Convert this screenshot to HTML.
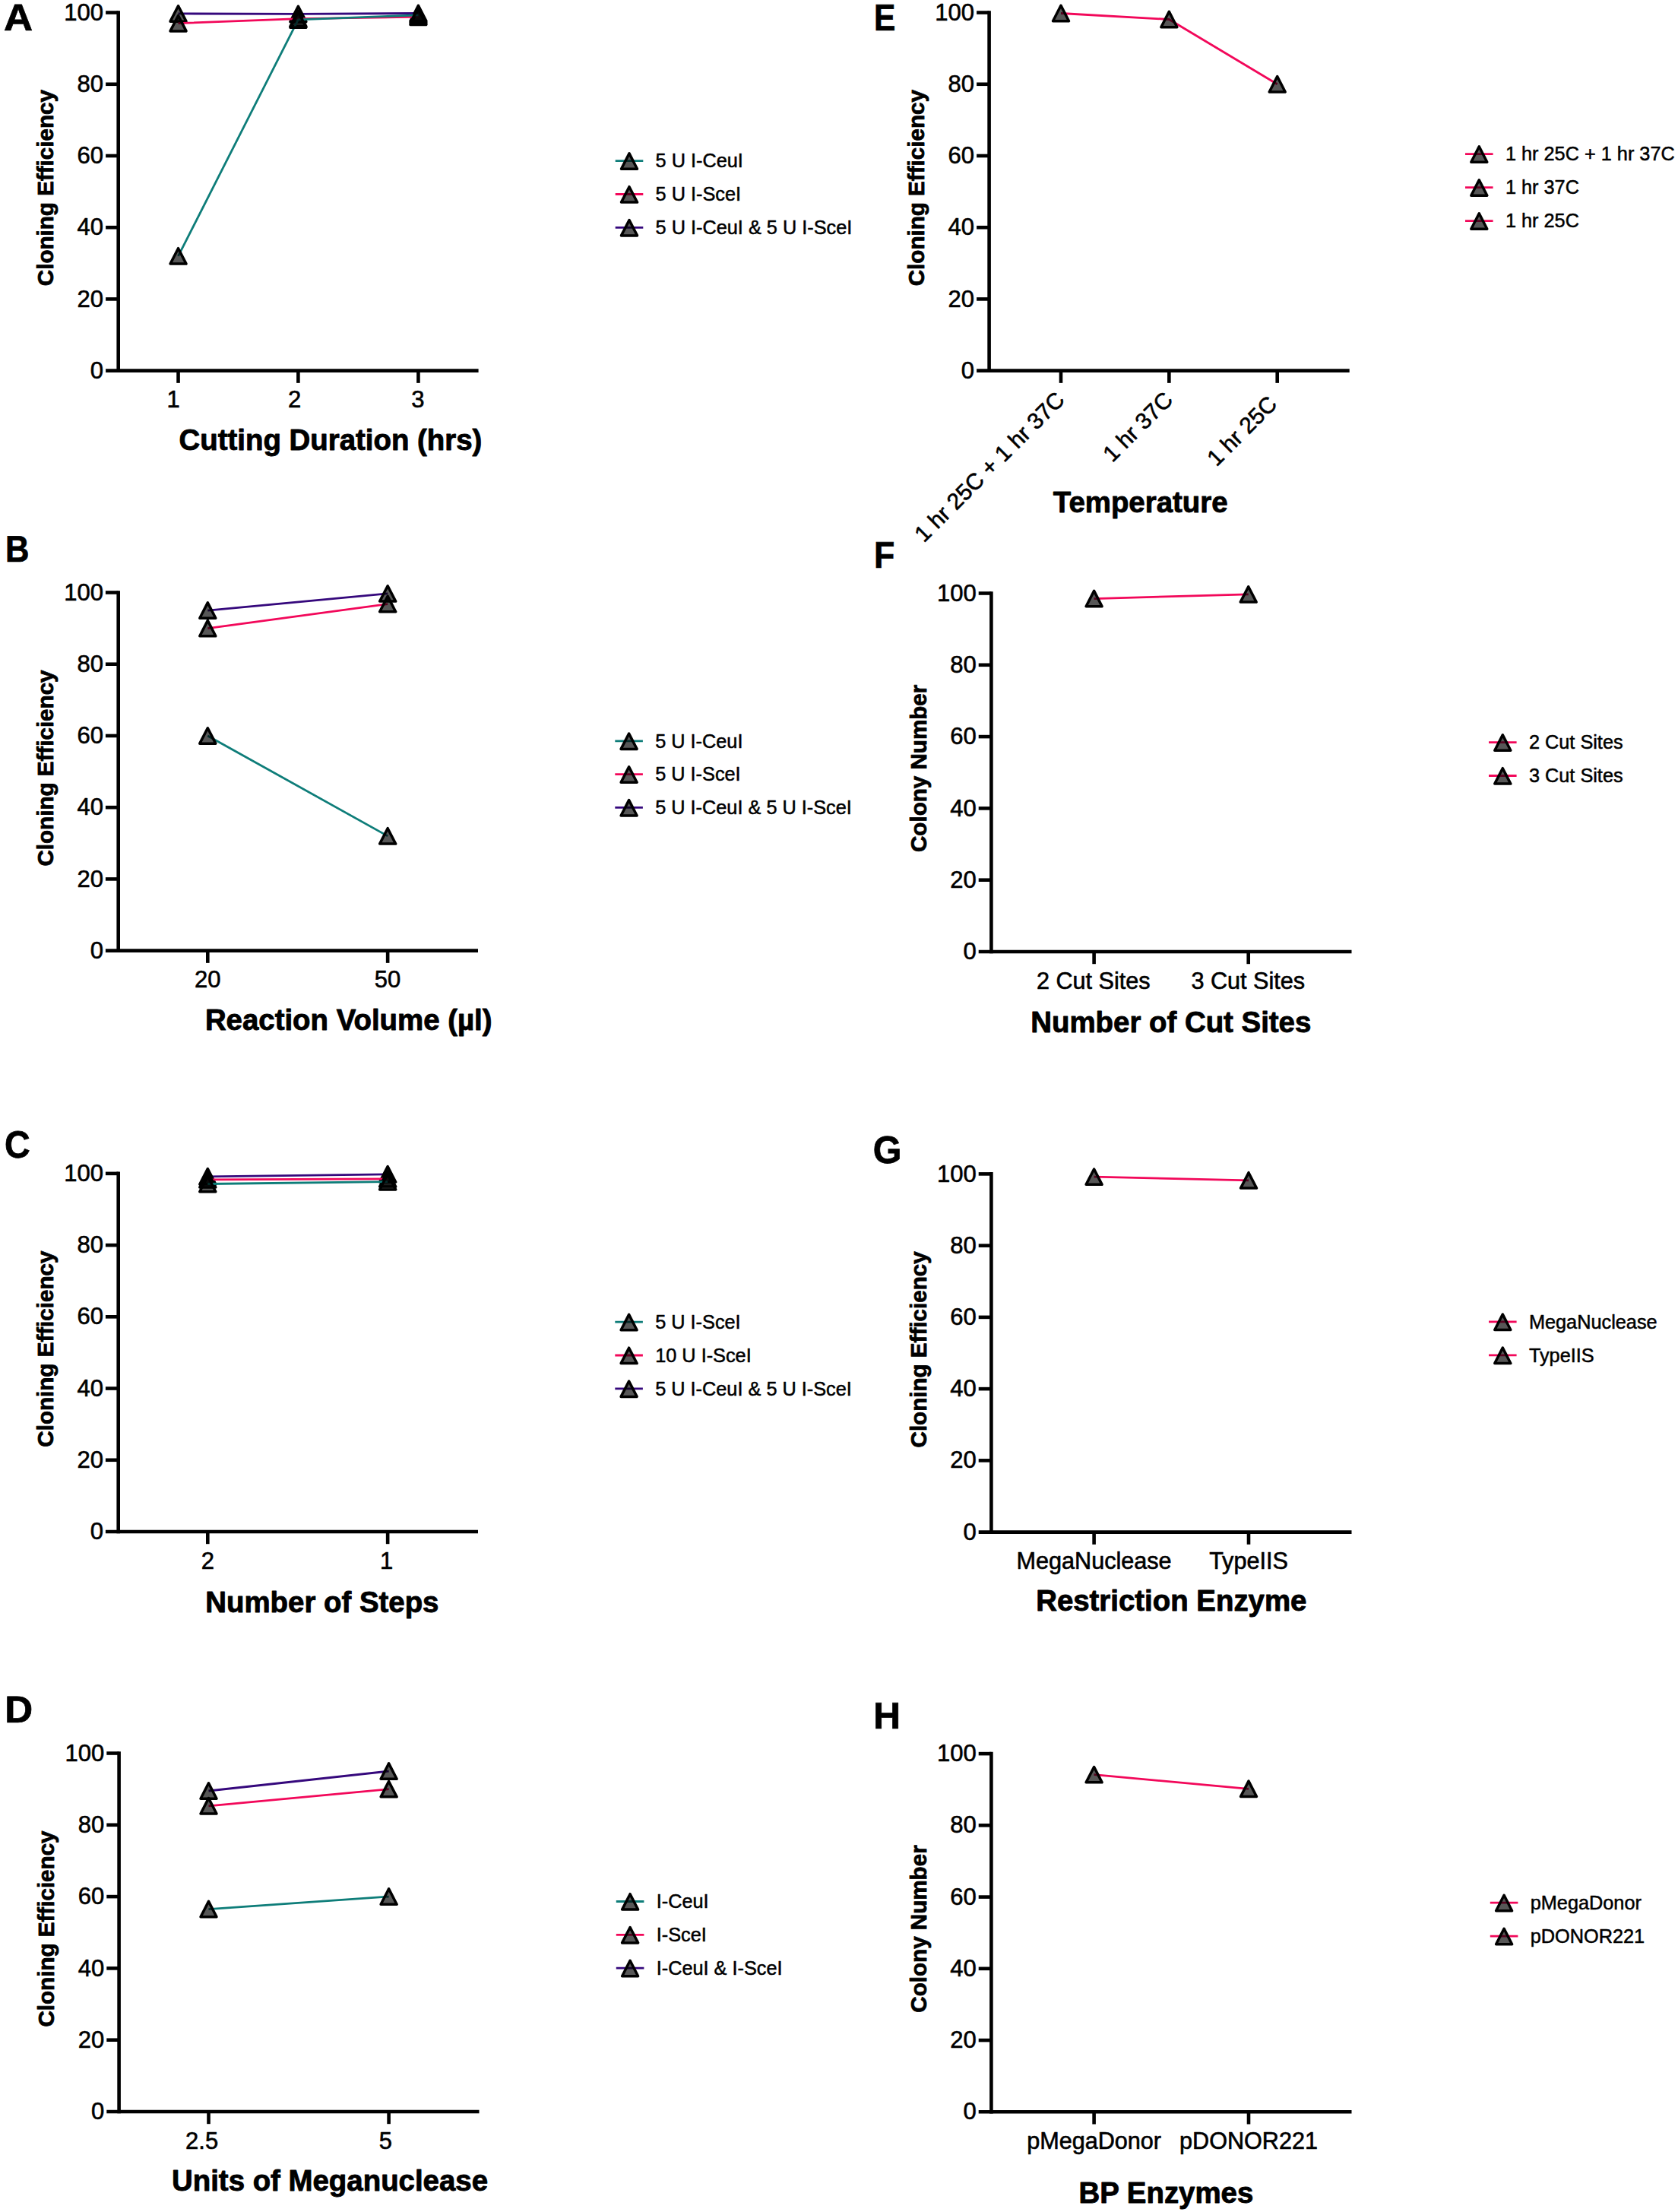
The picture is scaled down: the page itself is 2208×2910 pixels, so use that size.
<!DOCTYPE html>
<html lang="en">
<head>
<meta charset="utf-8">
<title>Cloning efficiency figure</title>
<style>
html,body{margin:0;padding:0;background:#fff}
svg{display:block}
text{font-family:"Liberation Sans",Arial,Helvetica,sans-serif;fill:#000}
.ax{stroke:#000;stroke-width:4.6;fill:none;stroke-linecap:butt}
.ln{stroke-width:2.8;fill:none;stroke-linecap:butt;stroke-linejoin:round}
.tr{fill:#000;fill-opacity:.66;stroke:#000;stroke-width:3.5;stroke-linejoin:round}
.tk{font-size:31px;stroke:#000;stroke-width:.6px;stroke-linejoin:round}
.lg{font-size:25.3px;stroke:#000;stroke-width:.5px;stroke-linejoin:round}
.xt{font-size:38.4px;font-weight:bold;stroke:#000;stroke-width:.9px;stroke-linejoin:round}
.yt{font-size:29.6px;font-weight:bold;stroke:#000;stroke-width:.8px;stroke-linejoin:round}
.pl{text-rendering:geometricPrecision;font-size:100px;font-weight:bold;stroke:#000;stroke-width:1.5px;stroke-linejoin:miter}
</style>
</head>
<body>
<svg width="2208" height="2910" viewBox="0 0 2208 2910">
<rect width="2208" height="2910" fill="#fff"/>
<g class="panel">
<path class="ax" d="M155.7 14.25V489.95"/>
<path class="ax" d="M139.1 487.65H629.6"/>
<text class="tk" text-anchor="end" x="136.1" y="497.75">0</text>
<path class="ax" d="M139.1 393.43H155.7"/>
<text class="tk" text-anchor="end" x="136.1" y="403.53">20</text>
<path class="ax" d="M139.1 299.21H155.7"/>
<text class="tk" text-anchor="end" x="136.1" y="309.31">40</text>
<path class="ax" d="M139.1 204.99H155.7"/>
<text class="tk" text-anchor="end" x="136.1" y="215.09">60</text>
<path class="ax" d="M139.1 110.77H155.7"/>
<text class="tk" text-anchor="end" x="136.1" y="120.87">80</text>
<path class="ax" d="M139.1 16.55H155.7"/>
<text class="tk" text-anchor="end" x="136.1" y="26.65">100</text>
<path class="ax" d="M234.55 487.65V503.85"/>
<text class="tk" text-anchor="middle" x="228.2" y="536.1">1</text>
<path class="ax" d="M392.4 487.65V503.85"/>
<text class="tk" text-anchor="middle" x="387.5" y="536.1">2</text>
<path class="ax" d="M550.45 487.65V503.85"/>
<text class="tk" text-anchor="middle" x="549.9" y="536.1">3</text>
<text class="yt" text-anchor="middle" transform="translate(70.3 247.1) rotate(-90)">Cloning Efficiency</text>
<text class="xt" text-anchor="middle" x="435.0" y="591.5">Cutting Duration (hrs)</text>
<polyline class="ln" stroke="#35087c" points="234.55,17.96 392.40,18.43 550.45,17.49"/>
<path d="M234.55 7.76L245.05 28.16L224.05 28.16Z" class="tr"/>
<path d="M392.40 8.23L402.90 28.63L381.90 28.63Z" class="tr"/>
<path d="M550.45 7.29L560.95 27.69L539.95 27.69Z" class="tr"/>
<polyline class="ln" stroke="#f2085a" points="234.55,30.68 392.40,24.56 550.45,22.20"/>
<path d="M234.55 20.48L245.05 40.88L224.05 40.88Z" class="tr"/>
<path d="M392.40 14.36L402.90 34.76L381.90 34.76Z" class="tr"/>
<path d="M550.45 12.00L560.95 32.40L539.95 32.40Z" class="tr"/>
<polyline class="ln" stroke="#0e7d79" points="234.55,336.90 392.40,25.97 550.45,19.85"/>
<path d="M234.55 326.70L245.05 347.10L224.05 347.10Z" class="tr"/>
<path d="M392.40 15.77L402.90 36.17L381.90 36.17Z" class="tr"/>
<path d="M550.45 9.65L560.95 30.05L539.95 30.05Z" class="tr"/>
<path class="ln" stroke="#0e7d79" d="M809.7 211.7H846.3"/>
<path d="M828.00 201.90L838.50 222.30L817.50 222.30Z" class="tr"/>
<text class="lg" x="862.6" y="220.4">5 U I-CeuI</text>
<path class="ln" stroke="#f2085a" d="M809.7 255.5H846.3"/>
<path d="M828.00 245.70L838.50 266.10L817.50 266.10Z" class="tr"/>
<text class="lg" x="862.6" y="264.2">5 U I-SceI</text>
<path class="ln" stroke="#35087c" d="M809.7 299.3H846.3"/>
<path d="M828.00 289.50L838.50 309.90L817.50 309.90Z" class="tr"/>
<text class="lg" x="862.6" y="308.0">5 U I-CeuI &amp; 5 U I-SceI</text>
<text class="pl" transform="matrix(0.5278 0 0 0.4953 5.08 40.08)">A</text>
</g>
<g class="panel">
<path class="ax" d="M155.7 777.20V1252.95"/>
<path class="ax" d="M138.9 1250.65H629.0"/>
<text class="tk" text-anchor="end" x="135.9" y="1260.75">0</text>
<path class="ax" d="M138.9 1156.42H155.7"/>
<text class="tk" text-anchor="end" x="135.9" y="1166.52">20</text>
<path class="ax" d="M138.9 1062.19H155.7"/>
<text class="tk" text-anchor="end" x="135.9" y="1072.29">40</text>
<path class="ax" d="M138.9 967.96H155.7"/>
<text class="tk" text-anchor="end" x="135.9" y="978.06">60</text>
<path class="ax" d="M138.9 873.73H155.7"/>
<text class="tk" text-anchor="end" x="135.9" y="883.83">80</text>
<path class="ax" d="M138.9 779.50H155.7"/>
<text class="tk" text-anchor="end" x="135.9" y="789.60">100</text>
<path class="ax" d="M273.3 1250.65V1266.85"/>
<text class="tk" text-anchor="middle" x="273.3" y="1299.2">20</text>
<path class="ax" d="M510.15 1250.65V1266.85"/>
<text class="tk" text-anchor="middle" x="510.1" y="1299.2">50</text>
<text class="yt" text-anchor="middle" transform="translate(70.3 1010.5) rotate(-90)">Cloning Efficiency</text>
<text class="xt" text-anchor="middle" x="458.7" y="1355.3">Reaction Volume (µl)</text>
<polyline class="ln" stroke="#35087c" points="273.30,803.06 510.15,780.91"/>
<path d="M273.30 792.86L283.80 813.26L262.80 813.26Z" class="tr"/>
<path d="M510.15 770.71L520.65 791.11L499.65 791.11Z" class="tr"/>
<polyline class="ln" stroke="#f2085a" points="273.30,826.62 510.15,794.58"/>
<path d="M273.30 816.41L283.80 836.82L262.80 836.82Z" class="tr"/>
<path d="M510.15 784.38L520.65 804.78L499.65 804.78Z" class="tr"/>
<polyline class="ln" stroke="#0e7d79" points="273.30,967.96 510.15,1099.88"/>
<path d="M273.30 957.76L283.80 978.16L262.80 978.16Z" class="tr"/>
<path d="M510.15 1089.68L520.65 1110.08L499.65 1110.08Z" class="tr"/>
<path class="ln" stroke="#0e7d79" d="M809.3 974.8H845.9"/>
<path d="M827.60 965.00L838.10 985.40L817.10 985.40Z" class="tr"/>
<text class="lg" x="862.2" y="983.5">5 U I-CeuI</text>
<path class="ln" stroke="#f2085a" d="M809.3 1018.6H845.9"/>
<path d="M827.60 1008.80L838.10 1029.20L817.10 1029.20Z" class="tr"/>
<text class="lg" x="862.2" y="1027.3">5 U I-SceI</text>
<path class="ln" stroke="#35087c" d="M809.3 1062.4H845.9"/>
<path d="M827.60 1052.60L838.10 1073.00L817.10 1073.00Z" class="tr"/>
<text class="lg" x="862.2" y="1071.1">5 U I-CeuI &amp; 5 U I-SceI</text>
<text class="pl" transform="matrix(0.4357 0 0 0.4893 6.88 738.88)">B</text>
</g>
<g class="panel">
<path class="ax" d="M155.7 1541.55V2017.30"/>
<path class="ax" d="M138.9 2015.0H629.0"/>
<text class="tk" text-anchor="end" x="135.9" y="2025.10">0</text>
<path class="ax" d="M138.9 1920.77H155.7"/>
<text class="tk" text-anchor="end" x="135.9" y="1930.87">20</text>
<path class="ax" d="M138.9 1826.54H155.7"/>
<text class="tk" text-anchor="end" x="135.9" y="1836.64">40</text>
<path class="ax" d="M138.9 1732.31H155.7"/>
<text class="tk" text-anchor="end" x="135.9" y="1742.41">60</text>
<path class="ax" d="M138.9 1638.08H155.7"/>
<text class="tk" text-anchor="end" x="135.9" y="1648.18">80</text>
<path class="ax" d="M138.9 1543.85H155.7"/>
<text class="tk" text-anchor="end" x="135.9" y="1553.95">100</text>
<path class="ax" d="M273.3 2015.0V2031.20"/>
<text class="tk" text-anchor="middle" x="273.3" y="2063.5">2</text>
<path class="ax" d="M510.15 2015.0V2031.20"/>
<text class="tk" text-anchor="middle" x="508.5" y="2063.5">1</text>
<text class="yt" text-anchor="middle" transform="translate(70.3 1774.6) rotate(-90)">Cloning Efficiency</text>
<text class="xt" text-anchor="middle" x="423.9" y="2121.0">Number of Steps</text>
<polyline class="ln" stroke="#35087c" points="273.30,1547.85 510.15,1544.79"/>
<path d="M273.30 1537.65L283.80 1558.05L262.80 1558.05Z" class="tr"/>
<path d="M510.15 1534.59L520.65 1554.99L499.65 1554.99Z" class="tr"/>
<polyline class="ln" stroke="#f2085a" points="273.30,1551.86 510.15,1550.92"/>
<path d="M273.30 1541.66L283.80 1562.06L262.80 1562.06Z" class="tr"/>
<path d="M510.15 1540.72L520.65 1561.12L499.65 1561.12Z" class="tr"/>
<polyline class="ln" stroke="#0e7d79" points="273.30,1557.51 510.15,1554.69"/>
<path d="M273.30 1547.31L283.80 1567.71L262.80 1567.71Z" class="tr"/>
<path d="M510.15 1544.49L520.65 1564.89L499.65 1564.89Z" class="tr"/>
<path class="ln" stroke="#0e7d79" d="M809.3 1739.2H845.9"/>
<path d="M827.60 1729.40L838.10 1749.80L817.10 1749.80Z" class="tr"/>
<text class="lg" x="862.2" y="1747.9">5 U I-SceI</text>
<path class="ln" stroke="#f2085a" d="M809.3 1783.0H845.9"/>
<path d="M827.60 1773.20L838.10 1793.60L817.10 1793.60Z" class="tr"/>
<text class="lg" x="862.2" y="1791.7">10 U I-SceI</text>
<path class="ln" stroke="#35087c" d="M809.3 1826.8H845.9"/>
<path d="M827.60 1817.00L838.10 1837.40L817.10 1837.40Z" class="tr"/>
<text class="lg" x="862.2" y="1835.5">5 U I-CeuI &amp; 5 U I-SceI</text>
<text class="pl" transform="matrix(0.4665 0 0 0.5017 6.11 1522.60)">C</text>
</g>
<g class="panel">
<path class="ax" d="M156.6 2304.20V2780.30"/>
<path class="ax" d="M140.3 2778.0H630.5"/>
<text class="tk" text-anchor="end" x="137.3" y="2788.10">0</text>
<path class="ax" d="M140.3 2683.70H156.6"/>
<text class="tk" text-anchor="end" x="137.3" y="2693.80">20</text>
<path class="ax" d="M140.3 2589.40H156.6"/>
<text class="tk" text-anchor="end" x="137.3" y="2599.50">40</text>
<path class="ax" d="M140.3 2495.10H156.6"/>
<text class="tk" text-anchor="end" x="137.3" y="2505.20">60</text>
<path class="ax" d="M140.3 2400.80H156.6"/>
<text class="tk" text-anchor="end" x="137.3" y="2410.90">80</text>
<path class="ax" d="M140.3 2306.50H156.6"/>
<text class="tk" text-anchor="end" x="137.3" y="2316.60">100</text>
<path class="ax" d="M274.5 2778.0V2794.20"/>
<text class="tk" text-anchor="middle" x="265.6" y="2826.5">2.5</text>
<path class="ax" d="M511.6 2778.0V2794.20"/>
<text class="tk" text-anchor="middle" x="507.4" y="2826.5">5</text>
<text class="yt" text-anchor="middle" transform="translate(71.2 2537.5) rotate(-90)">Cloning Efficiency</text>
<text class="xt" text-anchor="middle" x="434.0" y="2882.3">Units of Meganuclease</text>
<polyline class="ln" stroke="#35087c" points="274.50,2356.01 511.60,2330.07"/>
<path d="M274.50 2345.81L285.00 2366.21L264.00 2366.21Z" class="tr"/>
<path d="M511.60 2319.88L522.10 2340.27L501.10 2340.27Z" class="tr"/>
<polyline class="ln" stroke="#f2085a" points="274.50,2375.81 511.60,2353.65"/>
<path d="M274.50 2365.61L285.00 2386.01L264.00 2386.01Z" class="tr"/>
<path d="M511.60 2343.45L522.10 2363.85L501.10 2363.85Z" class="tr"/>
<polyline class="ln" stroke="#0e7d79" points="274.50,2511.60 511.60,2495.10"/>
<path d="M274.50 2501.40L285.00 2521.80L264.00 2521.80Z" class="tr"/>
<path d="M511.60 2484.90L522.10 2505.30L501.10 2505.30Z" class="tr"/>
<path class="ln" stroke="#0e7d79" d="M810.8 2501.5H847.4"/>
<path d="M829.10 2491.70L839.60 2512.10L818.60 2512.10Z" class="tr"/>
<text class="lg" x="863.7" y="2510.2">I-CeuI</text>
<path class="ln" stroke="#f2085a" d="M810.8 2545.3H847.4"/>
<path d="M829.10 2535.50L839.60 2555.90L818.60 2555.90Z" class="tr"/>
<text class="lg" x="863.7" y="2554.0">I-SceI</text>
<path class="ln" stroke="#35087c" d="M810.8 2589.1H847.4"/>
<path d="M829.10 2579.30L839.60 2599.70L818.60 2599.70Z" class="tr"/>
<text class="lg" x="863.7" y="2597.8">I-CeuI &amp; I-SceI</text>
<text class="pl" transform="matrix(0.5104 0 0 0.4970 6.16 2266.48)">D</text>
</g>
<g class="panel">
<path class="ax" d="M1301.6 14.25V489.95"/>
<path class="ax" d="M1285.1 487.65H1775.7"/>
<text class="tk" text-anchor="end" x="1282.1" y="497.75">0</text>
<path class="ax" d="M1285.1 393.43H1301.6"/>
<text class="tk" text-anchor="end" x="1282.1" y="403.53">20</text>
<path class="ax" d="M1285.1 299.21H1301.6"/>
<text class="tk" text-anchor="end" x="1282.1" y="309.31">40</text>
<path class="ax" d="M1285.1 204.99H1301.6"/>
<text class="tk" text-anchor="end" x="1282.1" y="215.09">60</text>
<path class="ax" d="M1285.1 110.77H1301.6"/>
<text class="tk" text-anchor="end" x="1282.1" y="120.87">80</text>
<path class="ax" d="M1285.1 16.55H1301.6"/>
<text class="tk" text-anchor="end" x="1282.1" y="26.65">100</text>
<path class="ax" d="M1396.0 487.65V503.85"/>
<text class="tk" style="font-size:30px" text-anchor="end" transform="translate(1402.7 527.9) rotate(-45)">1 hr 25C + 1 hr 37C</text>
<path class="ax" d="M1538.35 487.65V503.85"/>
<text class="tk" style="font-size:30px" text-anchor="end" transform="translate(1545.0 527.9) rotate(-45)">1 hr 37C</text>
<path class="ax" d="M1680.7 487.65V503.85"/>
<text class="tk" style="font-size:30px" text-anchor="end" transform="translate(1682.0 533.3) rotate(-45)">1 hr 25C</text>
<text class="yt" text-anchor="middle" transform="translate(1216.2 247.2) rotate(-90)">Cloning Efficiency</text>
<text class="xt" text-anchor="middle" x="1500.7" y="674.1">Temperature</text>
<polyline class="ln" stroke="#f2085a" points="1396.00,17.49 1538.35,25.50 1680.70,110.77"/>
<path d="M1396.00 7.29L1406.50 27.69L1385.50 27.69Z" class="tr"/>
<path d="M1538.35 15.30L1548.85 35.70L1527.85 35.70Z" class="tr"/>
<path d="M1680.70 100.57L1691.20 120.97L1670.20 120.97Z" class="tr"/>
<path class="ln" stroke="#f2085a" d="M1928.0 202.6H1964.6"/>
<path d="M1946.30 192.80L1956.80 213.20L1935.80 213.20Z" class="tr"/>
<text class="lg" x="1980.9" y="211.3">1 hr 25C + 1 hr 37C</text>
<path class="ln" stroke="#f2085a" d="M1928.0 246.6H1964.6"/>
<path d="M1946.30 236.80L1956.80 257.20L1935.80 257.20Z" class="tr"/>
<text class="lg" x="1980.9" y="255.3">1 hr 37C</text>
<path class="ln" stroke="#f2085a" d="M1928.0 290.6H1964.6"/>
<path d="M1946.30 280.80L1956.80 301.20L1935.80 301.20Z" class="tr"/>
<text class="lg" x="1980.9" y="299.3">1 hr 25C</text>
<text class="pl" transform="matrix(0.4245 0 0 0.4908 1149.99 40.28)">E</text>
</g>
<g class="panel">
<path class="ax" d="M1304.4 778.20V1254.30"/>
<path class="ax" d="M1287.7 1252.0H1778.5"/>
<text class="tk" text-anchor="end" x="1284.7" y="1262.10">0</text>
<path class="ax" d="M1287.7 1157.70H1304.4"/>
<text class="tk" text-anchor="end" x="1284.7" y="1167.80">20</text>
<path class="ax" d="M1287.7 1063.40H1304.4"/>
<text class="tk" text-anchor="end" x="1284.7" y="1073.50">40</text>
<path class="ax" d="M1287.7 969.10H1304.4"/>
<text class="tk" text-anchor="end" x="1284.7" y="979.20">60</text>
<path class="ax" d="M1287.7 874.80H1304.4"/>
<text class="tk" text-anchor="end" x="1284.7" y="884.90">80</text>
<path class="ax" d="M1287.7 780.50H1304.4"/>
<text class="tk" text-anchor="end" x="1284.7" y="790.60">100</text>
<path class="ax" d="M1439.6 1252.0V1268.20"/>
<text class="tk" style="font-size:30.6px" text-anchor="middle" x="1438.8" y="1300.5">2 Cut Sites</text>
<path class="ax" d="M1642.7 1252.0V1268.20"/>
<text class="tk" style="font-size:30.6px" text-anchor="middle" x="1642.3" y="1300.5">3 Cut Sites</text>
<text class="yt" text-anchor="middle" transform="translate(1219.0 1010.85) rotate(-90)">Colony Number</text>
<text class="xt" text-anchor="middle" x="1540.8" y="1358.1">Number of Cut Sites</text>
<polyline class="ln" stroke="#f2085a" points="1439.60,787.57 1642.70,781.91"/>
<path d="M1439.60 777.37L1450.10 797.77L1429.10 797.77Z" class="tr"/>
<path d="M1642.70 771.71L1653.20 792.11L1632.20 792.11Z" class="tr"/>
<path class="ln" stroke="#f2085a" d="M1959.0 976.7H1995.6"/>
<path d="M1977.30 966.90L1987.80 987.30L1966.80 987.30Z" class="tr"/>
<text class="lg" x="2011.9" y="985.4">2 Cut Sites</text>
<path class="ln" stroke="#f2085a" d="M1959.0 1020.5H1995.6"/>
<path d="M1977.30 1010.70L1987.80 1031.10L1966.80 1031.10Z" class="tr"/>
<text class="lg" x="2011.9" y="1029.2">3 Cut Sites</text>
<text class="pl" transform="matrix(0.4460 0 0 0.4908 1149.97 747.28)">F</text>
</g>
<g class="panel">
<path class="ax" d="M1304.4 1542.10V2017.90"/>
<path class="ax" d="M1287.7 2015.6H1778.5"/>
<text class="tk" text-anchor="end" x="1284.7" y="2025.70">0</text>
<path class="ax" d="M1287.7 1921.36H1304.4"/>
<text class="tk" text-anchor="end" x="1284.7" y="1931.46">20</text>
<path class="ax" d="M1287.7 1827.12H1304.4"/>
<text class="tk" text-anchor="end" x="1284.7" y="1837.22">40</text>
<path class="ax" d="M1287.7 1732.88H1304.4"/>
<text class="tk" text-anchor="end" x="1284.7" y="1742.98">60</text>
<path class="ax" d="M1287.7 1638.64H1304.4"/>
<text class="tk" text-anchor="end" x="1284.7" y="1648.74">80</text>
<path class="ax" d="M1287.7 1544.40H1304.4"/>
<text class="tk" text-anchor="end" x="1284.7" y="1554.50">100</text>
<path class="ax" d="M1439.6 2015.6V2031.80"/>
<text class="tk" style="font-size:30.6px" text-anchor="middle" x="1439.6" y="2064.1">MegaNuclease</text>
<path class="ax" d="M1643.0 2015.6V2031.80"/>
<text class="tk" style="font-size:30.6px" text-anchor="middle" x="1643.0" y="2064.1">TypeIIS</text>
<text class="yt" text-anchor="middle" transform="translate(1219.0 1775.4) rotate(-90)">Cloning Efficiency</text>
<text class="xt" text-anchor="middle" x="1541.3" y="2119.3">Restriction Enzyme</text>
<polyline class="ln" stroke="#f2085a" points="1439.60,1548.17 1643.00,1552.88"/>
<path d="M1439.60 1537.97L1450.10 1558.37L1429.10 1558.37Z" class="tr"/>
<path d="M1643.00 1542.68L1653.50 1563.08L1632.50 1563.08Z" class="tr"/>
<path class="ln" stroke="#f2085a" d="M1959.0 1738.9H1995.6"/>
<path d="M1977.30 1729.10L1987.80 1749.50L1966.80 1749.50Z" class="tr"/>
<text class="lg" x="2011.9" y="1747.6">MegaNuclease</text>
<path class="ln" stroke="#f2085a" d="M1959.0 1782.9H1995.6"/>
<path d="M1977.30 1773.10L1987.80 1793.50L1966.80 1793.50Z" class="tr"/>
<text class="lg" x="2011.9" y="1791.6">TypeIIS</text>
<text class="pl" transform="matrix(0.4845 0 0 0.5053 1148.85 1530.46)">G</text>
</g>
<g class="panel">
<path class="ax" d="M1304.4 2304.80V2780.60"/>
<path class="ax" d="M1287.7 2778.3H1778.5"/>
<text class="tk" text-anchor="end" x="1284.7" y="2788.40">0</text>
<path class="ax" d="M1287.7 2684.06H1304.4"/>
<text class="tk" text-anchor="end" x="1284.7" y="2694.16">20</text>
<path class="ax" d="M1287.7 2589.82H1304.4"/>
<text class="tk" text-anchor="end" x="1284.7" y="2599.92">40</text>
<path class="ax" d="M1287.7 2495.58H1304.4"/>
<text class="tk" text-anchor="end" x="1284.7" y="2505.68">60</text>
<path class="ax" d="M1287.7 2401.34H1304.4"/>
<text class="tk" text-anchor="end" x="1284.7" y="2411.44">80</text>
<path class="ax" d="M1287.7 2307.10H1304.4"/>
<text class="tk" text-anchor="end" x="1284.7" y="2317.20">100</text>
<path class="ax" d="M1439.6 2778.3V2794.50"/>
<text class="tk" style="font-size:30.6px" text-anchor="middle" x="1439.6" y="2826.8">pMegaDonor</text>
<path class="ax" d="M1643.0 2778.3V2794.50"/>
<text class="tk" style="font-size:30.6px" text-anchor="middle" x="1643.0" y="2826.8">pDONOR221</text>
<text class="yt" text-anchor="middle" transform="translate(1219.0 2537.5) rotate(-90)">Colony Number</text>
<text class="xt" text-anchor="middle" x="1534.4" y="2897.5">BP Enzymes</text>
<polyline class="ln" stroke="#f2085a" points="1439.60,2334.67 1643.00,2353.28"/>
<path d="M1439.60 2324.47L1450.10 2344.87L1429.10 2344.87Z" class="tr"/>
<path d="M1643.00 2343.08L1653.50 2363.48L1632.50 2363.48Z" class="tr"/>
<path class="ln" stroke="#f2085a" d="M1960.8 2503.1H1997.4"/>
<path d="M1979.10 2493.30L1989.60 2513.70L1968.60 2513.70Z" class="tr"/>
<text class="lg" x="2013.7" y="2511.8">pMegaDonor</text>
<path class="ln" stroke="#f2085a" d="M1960.8 2547.1H1997.4"/>
<path d="M1979.10 2537.30L1989.60 2557.70L1968.60 2557.70Z" class="tr"/>
<text class="lg" x="2013.7" y="2555.8">pDONOR221</text>
<text class="pl" transform="matrix(0.4965 0 0 0.4908 1149.37 2273.88)">H</text>
</g>
</svg>
</body>
</html>
